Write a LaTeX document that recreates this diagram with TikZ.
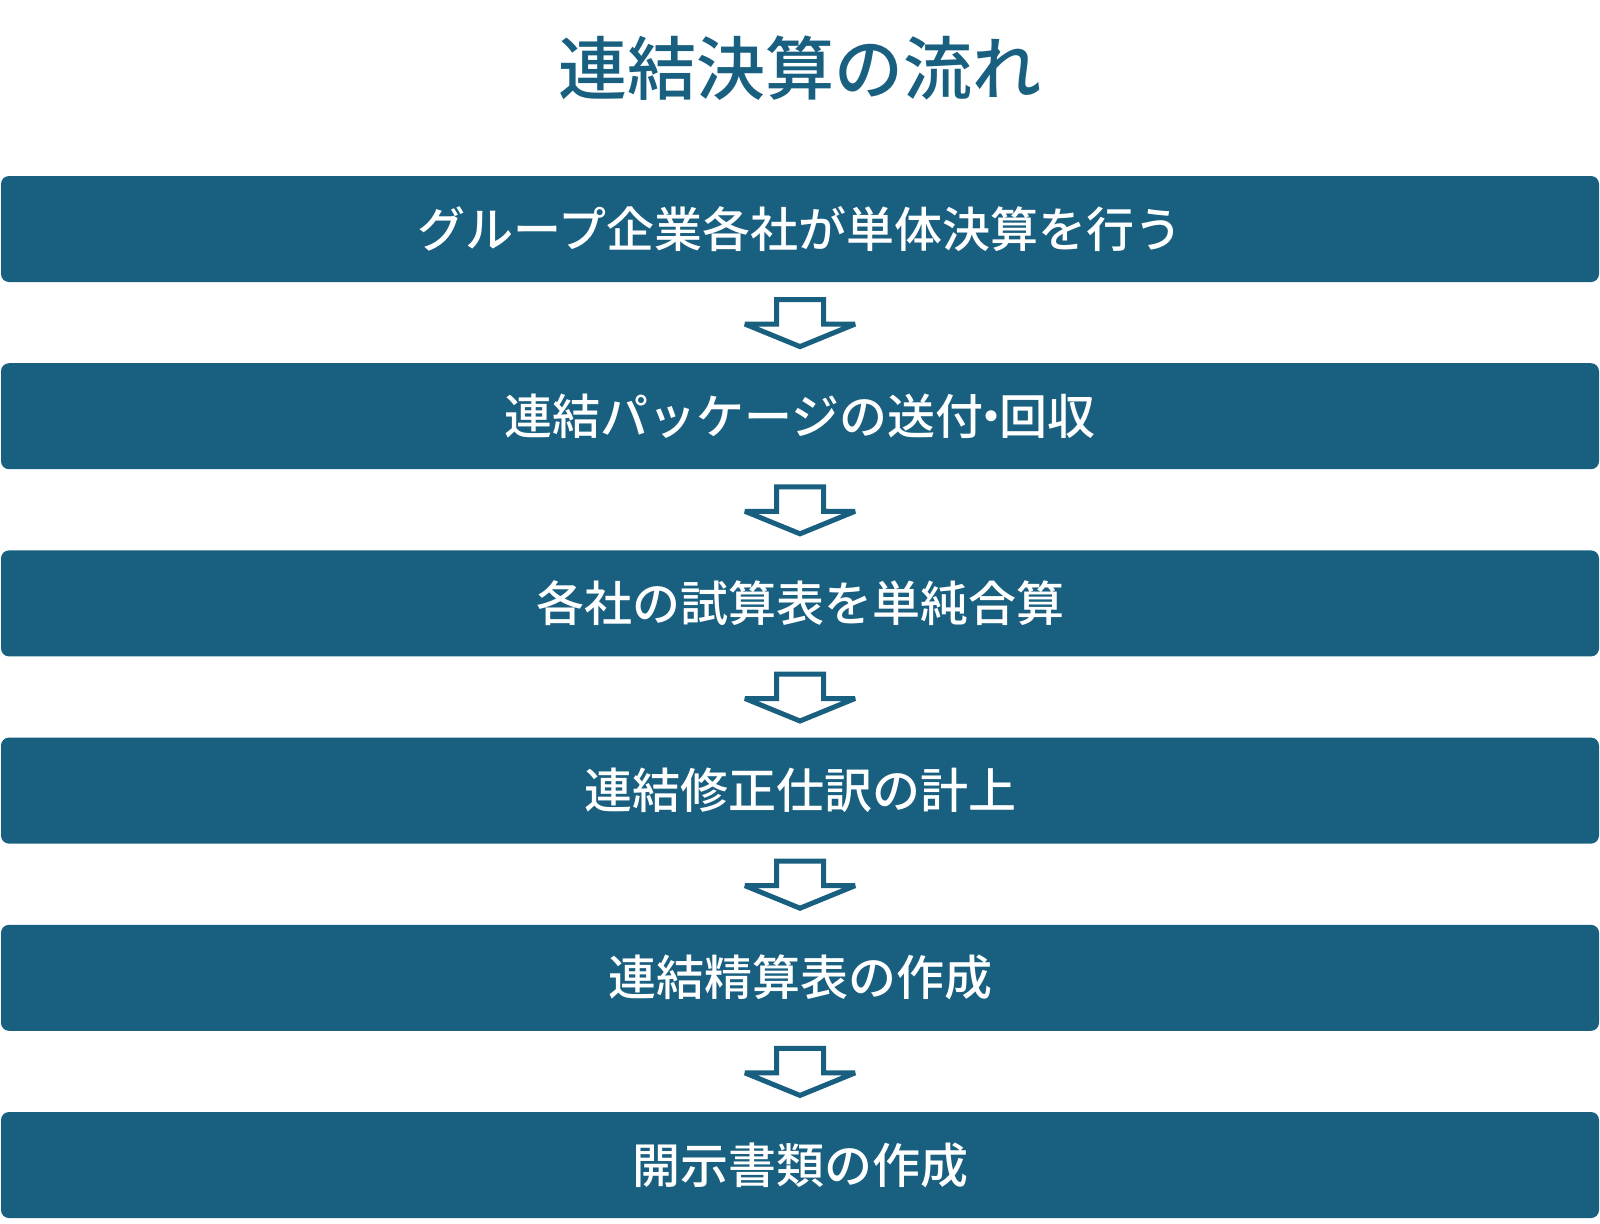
\documentclass[tikz,border=0pt]{standalone}
\usepackage{fontspec}
\newfontfamily\jp{Noto Sans CJK JP}[BoldFont={Noto Sans CJK JP Bold}]
\newfontfamily\jpm{Noto Sans CJK JP Medium}
\definecolor{flowblue}{RGB}{24,95,128}
\begin{document}
\begin{tikzpicture}[x=1pt,y=-1pt,
  stepbox/.style={fill=flowblue,rounded corners=8pt,minimum width=1598pt,minimum height=106pt,inner sep=0pt,text=white,font=\jpm\fontsize{48}{52}\selectfont},
  titletext/.style={text=flowblue,font=\jpm\fontsize{69}{74}\selectfont,inner sep=0pt},
  downarrow/.style={draw=flowblue,line width=5pt,fill=white,line join=miter,miter limit=2}]
\useasboundingbox (0,0) rectangle (1600,1223);
\node[titletext] (title) at (800,68) {連結決算の流れ};
\node[stepbox] (s1) at (800,229) {グループ企業各社が単体決算を行う};
\node[stepbox] (s2) at (800,416.2) {連結パッケージの送付\hspace{-16pt}・\hspace{-16pt}回収};
\node[stepbox] (s3) at (800,603.4) {各社の試算表を単純合算};
\node[stepbox] (s4) at (800,790.6) {連結修正仕訳の計上};
\node[stepbox] (s5) at (800,977.8) {連結精算表の作成};
\node[stepbox] (s6) at (800,1165) {開示書類の作成};
\foreach \a/\b in {s1/s2,s2/s3,s3/s4,s4/s5,s5/s6}{
  \path (\a.south) -- (\b.north) coordinate[pos=0.5] (m\a);
  \draw[downarrow] ([shift={(-23.5,-23)}]m\a) -- ([shift={(23.5,-23)}]m\a) -- ([shift={(23.5,1.5)}]m\a) -- ([shift={(55,1.5)}]m\a) -- ([shift={(0,24)}]m\a) -- ([shift={(-55,1.5)}]m\a) -- ([shift={(-23.5,1.5)}]m\a) -- cycle;
}
\end{tikzpicture}
\end{document}
